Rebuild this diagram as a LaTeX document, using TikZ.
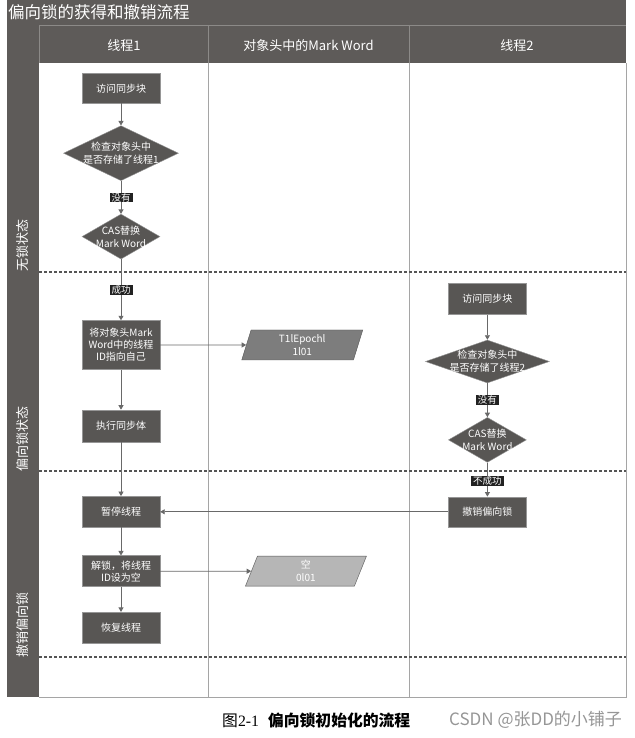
\documentclass[tikz,border=0pt]{standalone}
\usepackage{fontspec}
\setmainfont{Noto Sans CJK SC}
\newfontfamily\timesfont{Liberation Serif}
\usetikzlibrary{arrows.meta,calc,positioning,shapes.geometric}
\definecolor{bar}{RGB}{94,91,89}
\definecolor{boxfill}{RGB}{88,86,84}
\definecolor{boxline}{RGB}{150,150,150}
\definecolor{flowline}{RGB}{105,105,105}
\definecolor{lane}{RGB}{165,165,165}
\definecolor{hdrline}{RGB}{140,138,136}
\definecolor{tagfill}{RGB}{34,34,34}
\definecolor{markdark}{RGB}{125,125,125}
\definecolor{marklight}{RGB}{182,182,182}
\definecolor{markline}{RGB}{85,85,85}
\definecolor{wmark}{RGB}{150,150,150}
\tikzstyle{block} = [rectangle, draw=boxline, fill=boxfill, text=white, align=center, minimum width=78pt, minimum height=31pt, inner sep=1pt, font=\fontsize{10}{12}\selectfont]
\tikzstyle{decision} = [diamond, draw=boxline, fill=boxfill, text=white, align=center, inner sep=-4pt, font=\fontsize{10}{13}\selectfont]
\tikzstyle{iobox} = [trapezium, trapezium left angle=68, trapezium right angle=112, trapezium stretches body, draw=markline, text=white, align=center, minimum width=121pt, minimum height=30pt, inner sep=1pt, font=\fontsize{10}{13}\selectfont]
\tikzstyle{tag} = [fill=tagfill, text=white, inner xsep=2pt, inner ysep=0.5pt, font=\fontsize{9.5}{10}\selectfont]
\tikzstyle{flow} = [draw=flowline, line width=0.8pt, -{Triangle[width=5pt,length=4.5pt]}]
\tikzstyle{lanesep} = [markline, line width=1.4pt, dash pattern=on 3pt off 2pt]
\tikzstyle{phase} = [rotate=90, anchor=west, inner sep=0pt, text=white, font=\fontsize{13}{13}\selectfont]

\begin{document}
\begin{tikzpicture}[x=1pt,y=1pt]
      \useasboundingbox (0,0) rectangle (634,738);
      \fill[white] (0,0) rectangle (634,738);
      % swimlane frame
      \fill[bar] (7,41) rectangle (626,738);
      \fill[white] (39,41) rectangle (626,675);
      \draw[hdrline] (39,675) -- (39,713) -- (626,713);
      \draw[hdrline] (208,675) -- (208,713) (409,675) -- (409,713);
      \draw[lane] (208,41) -- (208,675) (409,41) -- (409,675);
      \draw[lane] (39,41) -- (626,41) -- (626,675);
      \foreach \y in {466,267,81} \draw[lanesep] (39,\y) -- (626,\y);
      %
      \node[anchor=west, inner sep=0pt, text=white, font=\fontsize{16.5}{18}\selectfont] (Title) at (8,725.5) {偏向锁的获得和撤销流程};
      \node[text=white, font=\fontsize{13}{15}\selectfont] (HeadThreadA) at (124,692) {线程1};
      \node[text=white, font=\fontsize{13}{15}\selectfont] (HeadMark) at (308.5,692) {对象头中的Mark Word};
      \node[text=white, font=\fontsize{13}{15}\selectfont] (HeadThreadB) at (517,692) {线程2};
      \node[phase] (PhaseFree) at (23,466) {无锁状态};
      \node[phase] (PhaseBiased) at (23,266) {偏向锁状态};
      \node[phase] (PhaseRevoke) at (23,80) {撤销偏向锁};
      % thread 1
      \node[block, minimum height=30pt] (VisitA) at (121,649.7) {访问同步块};
      \node[decision, aspect=2, minimum width=115pt, minimum height=55pt, below=22pt of VisitA] (CheckA) {检查对象头中\\是否存储了线程1};
      \node[decision, aspect=1.7, minimum width=78pt, minimum height=45pt, below=33pt of CheckA] (CasA) {CAS替换\\Mark Word};
      \node[block, minimum height=49pt, below=61pt of CasA] (PointA) {将对象头Mark\\Word中的线程\\ID指向自己};
      \node[block, minimum height=32pt, below=40pt of PointA] (RunA) {执行同步体};
      \node[block, below=54pt of RunA] (PauseA) {暂停线程};
      \node[block, below=28pt of PauseA] (UnlockA) {解锁，将线程\\ID设为空};
      \node[block, below=25pt of UnlockA] (ResumeA) {恢复线程};
      % mark word
      \node[iobox, fill=markdark, right=86pt of PointA] (MarkBiased) {T1lEpochl\\1l01};
      \node[iobox, fill=marklight, trapezium left angle=63, trapezium right angle=117, right=91pt of UnlockA] (MarkEmpty) {空\\0l01};
      % thread 2
      \node[block, minimum height=30pt, right=288pt of PauseA] (RevokeB) {撤销偏向锁};
      \node[decision, aspect=1.7, minimum width=78pt, minimum height=45pt, above=34pt of RevokeB] (CasB) {CAS替换\\Mark Word};
      \node[decision, aspect=3, minimum width=124pt, minimum height=43pt, above=34pt of CasB] (CheckB) {检查对象头中\\是否存储了线程2};
      \node[block, above=25pt of CheckB] (VisitB) {访问同步块};
      %
      \draw[flow] (VisitA) -- (CheckA);
      \draw[flow] (CheckA) -- node[tag] {没有} (CasA);
      \draw[flow] (CasA) -- node[tag] {成功} (PointA);
      \draw[flow] (PointA) -- (RunA);
      \draw[flow] (RunA) -- (PauseA);
      \draw[flow] (PauseA) -- (UnlockA);
      \draw[flow] (UnlockA) -- (ResumeA);
      \draw[flow] (PointA) -- (MarkBiased);
      \draw[flow] (UnlockA) -- (MarkEmpty);
      \draw[flow] (VisitB) -- (CheckB);
      \draw[flow] (CheckB) -- node[tag] {没有} (CasB);
      \draw[flow] (CasB) -- node[tag, pos=0.55] {不成功} (RevokeB);
      \draw[flow] (RevokeB) -- (PauseA);
      % caption
      \node[anchor=west, inner sep=0pt, font=\fontsize{15.8}{17}\selectfont] (Caption) at (222,18) {图{\timesfont 2-1}\hspace{9pt}\textbf{偏向锁初始化的流程}};
      \node[anchor=west, inner sep=0pt, text=wmark, font=\fontsize{17}{19}\selectfont] (Watermark) at (449,18) {CSDN @张DD的小铺子};
    \end{tikzpicture}
\end{document}
